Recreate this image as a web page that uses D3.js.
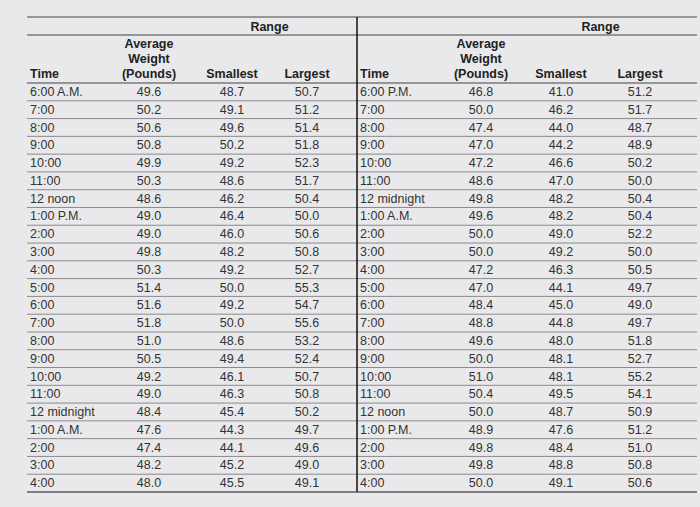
<!DOCTYPE html>
<html><head><meta charset="utf-8">
<script src="https://cdn.jsdelivr.net/npm/d3@7"></script>
<style>body{margin:0;background:#e9e9eb}svg{display:block}</style>
</head><body><svg></svg>
<script>
let leftTimes = ["6:00 A.M.","7:00","8:00","9:00","10:00","11:00","12 noon","1:00 P.M.","2:00","3:00","4:00","5:00","6:00","7:00","8:00","9:00","10:00","11:00","12 midnight","1:00 A.M.","2:00","3:00","4:00"]
let leftAvg = [49.6,50.2,50.6,50.8,49.9,50.3,48.6,49.0,49.0,49.8,50.3,51.4,51.6,51.8,51.0,50.5,49.2,49.0,48.4,47.6,47.4,48.2,48.0]
let leftSmall = [48.7,49.1,49.6,50.2,49.2,48.6,46.2,46.4,46.0,48.2,49.2,50.0,49.2,50.0,48.6,49.4,46.1,46.3,45.4,44.3,44.1,45.2,45.5]
let leftLarge = [50.7,51.2,51.4,51.8,52.3,51.7,50.4,50.0,50.6,50.8,52.7,55.3,54.7,55.6,53.2,52.4,50.7,50.8,50.2,49.7,49.6,49.0,49.1]
let rightTimes = ["6:00 P.M.","7:00","8:00","9:00","10:00","11:00","12 midnight","1:00 A.M.","2:00","3:00","4:00","5:00","6:00","7:00","8:00","9:00","10:00","11:00","12 noon","1:00 P.M.","2:00","3:00","4:00"]
let rightAvg = [46.8,50.0,47.4,47.0,47.2,48.6,49.8,49.6,50.0,50.0,47.2,47.0,48.4,48.8,49.6,50.0,51.0,50.4,50.0,48.9,49.8,49.8,50.0]
let rightSmall = [41.0,46.2,44.0,44.2,46.6,47.0,48.2,48.2,49.0,49.2,46.3,44.1,45.0,44.8,48.0,48.1,48.1,49.5,48.7,47.6,48.4,48.8,49.1]
let rightLarge = [51.2,51.7,48.7,48.9,50.2,50.0,50.4,50.4,52.2,50.0,50.5,49.7,49.0,49.7,51.8,52.7,55.2,54.1,50.9,51.2,51.0,50.8,50.6]

let width = 700
let height = 507
let tLeft = 27, tRight = 697, tTop = 17, rangeLine = 35, headBottom = 83, tBottom = 492, mid = 357

let svg = d3.select('svg').attr('width', width).attr('height', height)
  .style('font-family', 'Liberation Sans, Arial, sans-serif').style('font-size', '12.5px')

let yScale = d3.scaleBand().domain(d3.range(leftTimes.length)).range([headBottom, tBottom])

let drawHalf = (x0, x1, times, avg, small, large, offsets) => {
  let cols = [x0 + 3, x0 + offsets[0], x0 + offsets[1], x0 + offsets[2]]
  // header
  svg.append('text').attr('x', cols[0]).attr('y', 78).attr('font-weight', 'bold').attr('fill', '#222').text('Time')
  ;['Average', 'Weight', '(Pounds)'].forEach((t, i) => {
    svg.append('text').attr('x', cols[1]).attr('y', 48 + i * 15).attr('text-anchor', 'middle').attr('font-weight', 'bold').attr('fill', '#222').text(t)
  })
  svg.append('text').attr('x', cols[2]).attr('y', 78).attr('text-anchor', 'middle').attr('font-weight', 'bold').attr('fill', '#222').text('Smallest')
  svg.append('text').attr('x', cols[3]).attr('y', 78).attr('text-anchor', 'middle').attr('font-weight', 'bold').attr('fill', '#222').text('Largest')
  svg.append('text').attr('x', (cols[2] + cols[3]) / 2).attr('y', 31).attr('text-anchor', 'middle').attr('font-weight', 'bold').attr('fill', '#222').text('Range')

  let rows = svg.append('g').selectAll('g').data(times).enter().append('g')
    .attr('transform', (d, i) => 'translate(0,' + yScale(i) + ')')
  rows.append('line').attr('x1', x0).attr('x2', x1).attr('y1', yScale.bandwidth()).attr('y2', yScale.bandwidth())
    .attr('stroke', '#8a8a8c').attr('stroke-width', 1)
  rows.append('text').attr('x', cols[0]).attr('y', 13).attr('fill', '#333').text(d => d)
  rows.append('text').attr('x', cols[1]).attr('y', 13).attr('text-anchor', 'middle').attr('fill', '#333').text((d, i) => avg[i].toFixed(1))
  rows.append('text').attr('x', cols[2]).attr('y', 13).attr('text-anchor', 'middle').attr('fill', '#333').text((d, i) => small[i].toFixed(1))
  rows.append('text').attr('x', cols[3]).attr('y', 13).attr('text-anchor', 'middle').attr('fill', '#333').text((d, i) => large[i].toFixed(1))
}

drawHalf(tLeft, mid, leftTimes, leftAvg, leftSmall, leftLarge, [122, 205, 280])
drawHalf(mid, tRight, rightTimes, rightAvg, rightSmall, rightLarge, [124, 204, 283])

;[tTop, rangeLine, headBottom].forEach(y => {
  svg.append('line').attr('x1', tLeft).attr('x2', tRight).attr('y1', y).attr('y2', y).attr('stroke', '#444').attr('stroke-width', 1.2)
})
svg.append('line').attr('x1', mid).attr('x2', mid).attr('y1', tTop).attr('y2', tBottom).attr('stroke', '#111').attr('stroke-width', 1.5)
svg.append('line').attr('x1', tLeft).attr('x2', tRight).attr('y1', tBottom).attr('y2', tBottom).attr('stroke', '#444').attr('stroke-width', 1.2)
</script></body></html>
